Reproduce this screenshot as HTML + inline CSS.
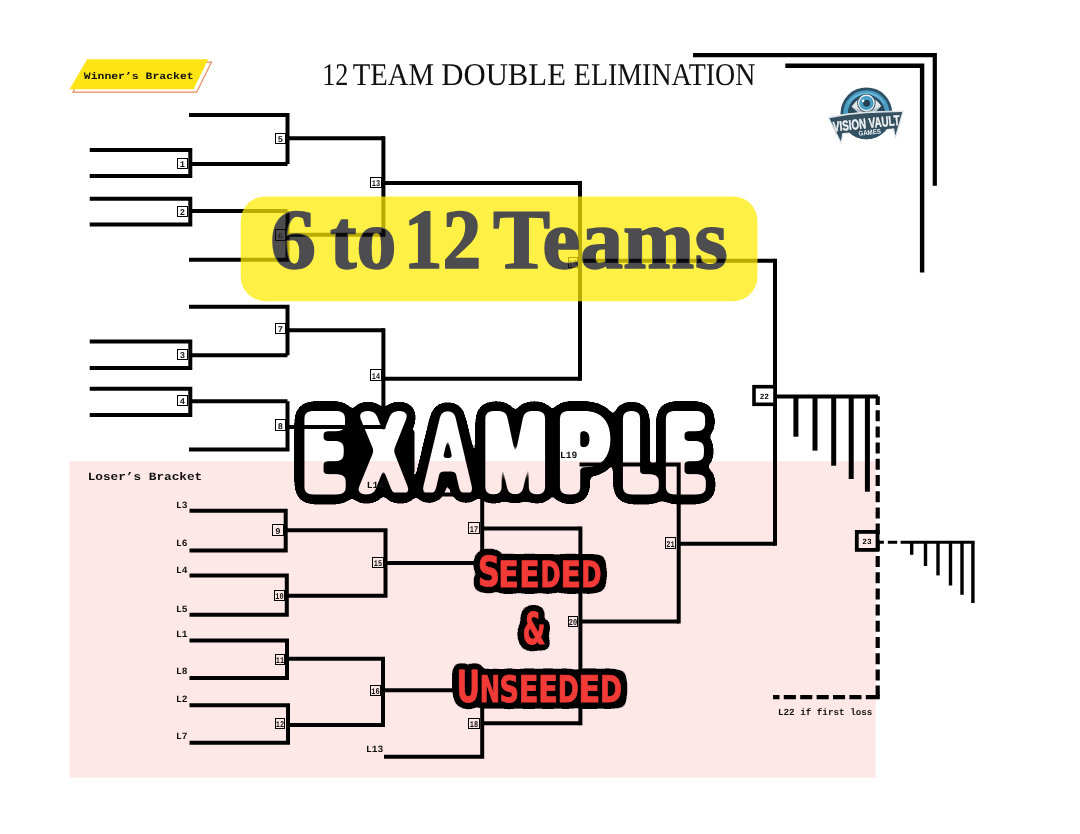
<!DOCTYPE html>
<html lang="en"><head><meta charset="utf-8"><title>12 Team Double Elimination</title>
<style>
html,body{margin:0;padding:0;background:#fff;}
body{width:1080px;height:834px;overflow:hidden;}
svg{display:block;opacity:0.999;}
text{white-space:pre;text-rendering:geometricPrecision;}
</style></head><body>
<svg width="1080" height="834" viewBox="0 0 1080 834">
<rect width="1080" height="834" fill="#fff"/>
<rect x="69.5" y="461.3" width="806.2" height="316.5" fill="#fee8e7"/>
<defs><filter id="ex" filterUnits="userSpaceOnUse" x="280" y="385" width="452" height="135" color-interpolation-filters="sRGB">
<feGaussianBlur in="SourceAlpha" stdDeviation="3.400 2.400" result="b1"/>
<feComponentTransfer in="b1" result="body"><feFuncA type="linear" slope="12.894" intercept="-1.5457"/></feComponentTransfer>
<feGaussianBlur in="body" stdDeviation="5.5" result="b2"/>
<feComponentTransfer in="b2" result="ol"><feFuncA type="linear" slope="127.722" intercept="-2.5334"/></feComponentTransfer>
<feFlood flood-color="#000" result="blk"/><feComposite operator="in" in="blk" in2="ol" result="bo"/>
<feFlood flood-color="#fff" x="280" y="385" width="452" height="76.3" result="fw"/>
<feFlood flood-color="#fee8e7" x="280" y="461.3" width="452" height="58.7" result="fp"/>
<feMerge result="fc"><feMergeNode in="fw"/><feMergeNode in="fp"/></feMerge>
<feComposite operator="in" in="fc" in2="body" result="bc"/>
<feMerge><feMergeNode in="bo"/><feMergeNode in="bc"/></feMerge>
</filter></defs>
<rect x="344" y="431" width="21" height="42" rx="4" fill="#000"/>
<rect x="399.5" y="429" width="15" height="46" rx="4" fill="#000"/>
<text y="491.50" font-weight="bold" fill="#000" filter="url(#ex)"><tspan x="301.43" font-family="'DejaVu Sans','Liberation Sans',sans-serif" font-size="107.68" textLength="45.88" lengthAdjust="spacingAndGlyphs">E</tspan><tspan x="359.78" font-family="'Liberation Sans','DejaVu Sans',sans-serif" font-size="114.10" textLength="47.25" lengthAdjust="spacingAndGlyphs">X</tspan><tspan x="425.37" font-family="'Liberation Sans','DejaVu Sans',sans-serif" font-weight="normal" font-size="114.10" textLength="44.66" lengthAdjust="spacingAndGlyphs">A</tspan><tspan x="483.61" font-family="'Liberation Sans','DejaVu Sans',sans-serif" font-size="114.10" textLength="63.38" lengthAdjust="spacingAndGlyphs">M</tspan><tspan x="556.57" font-family="'DejaVu Sans','Liberation Sans',sans-serif" font-size="107.68" textLength="53.74" lengthAdjust="spacingAndGlyphs">P</tspan><tspan x="621.11" font-family="'DejaVu Sans','Liberation Sans',sans-serif" font-size="107.68" textLength="36.04" lengthAdjust="spacingAndGlyphs">L</tspan><tspan x="663.28" font-family="'DejaVu Sans','Liberation Sans',sans-serif" font-size="107.68" textLength="44.04" lengthAdjust="spacingAndGlyphs">E</tspan></text>
<g id="ln" fill="none" stroke="#000" stroke-linejoin="miter" stroke-linecap="butt">
<path d="M89.7,150 H190.3 V176 H89.7" stroke-width="4" />
<path d="M190.3,164 H287.5" stroke-width="4" />
<path d="M89.7,198.7 H190.3 V224.6 H89.7" stroke-width="4" />
<path d="M190.3,211.0 H287.5" stroke-width="4" />
<path d="M89.7,341.6 H190.3 V368 H89.7" stroke-width="4" />
<path d="M190.3,355.2 H287.5" stroke-width="4" />
<path d="M89.7,388.7 H190.3 V415 H89.7" stroke-width="4" />
<path d="M190.3,401.3 H287.5" stroke-width="4" />
<path d="M189.0,115 H287.5 V164" stroke-width="4" />
<path d="M287.5,138.2 H383.4" stroke-width="4" />
<path d="M287.5,211 V259.7 H189.0" stroke-width="4" />
<path d="M287.5,234.8 H383.4" stroke-width="4" />
<path d="M189.0,306.8 H287.5 V355.2" stroke-width="4" />
<path d="M287.5,330.2 H383.4" stroke-width="4" />
<path d="M287.5,401.3 V449.6 H189.0" stroke-width="4" />
<path d="M287.5,427.0 H383.4" stroke-width="4" />
<path d="M383.4,136.2 V236.8" stroke-width="4" />
<path d="M383.4,183 H580.0" stroke-width="4" />
<path d="M383.4,328.2 V429.0" stroke-width="4" />
<path d="M383.4,378.8 H580.0" stroke-width="4" />
<path d="M580.0,181 V380.8" stroke-width="4" />
<path d="M580.0,260.7 H775.0" stroke-width="4" />
<path d="M775.0,258.7 V545.8" stroke-width="4" />
<path d="M775.0,396.5 H878" stroke-width="4" />
<path d="M189.5,510.8 H285.7 V550.4 H189.5" stroke-width="4" />
<path d="M189.5,575.6 H286.8 V614.7 H189.5" stroke-width="4" />
<path d="M189.5,640.5 H287.0 V678 H189.5" stroke-width="4" />
<path d="M189.5,705.3 H288.0 V742.7 H189.5" stroke-width="4" />
<path d="M285.7,530.2 H385.5 V595.7 H286.8" stroke-width="4" />
<path d="M385.5,562.9 H482.2" stroke-width="4" />
<path d="M286.8,658.7 H383 V724.9 H288.0" stroke-width="4" />
<path d="M383,690.2 H482.2" stroke-width="4" />
<path d="M385,494.5 H482.2 V564.9" stroke-width="4" />
<path d="M482.2,528.5 H580.4" stroke-width="4" />
<path d="M482.2,688.2 V756.8 H384" stroke-width="4" />
<path d="M482.2,723.2 H580.4" stroke-width="4" />
<path d="M580.4,526.5 V725.2" stroke-width="4" />
<path d="M580.4,621.4 H678.7" stroke-width="4" />
<path d="M579.5,464.5 H678.7 V623.4" stroke-width="4" />
<path d="M678.7,543.8 H775" stroke-width="4" />
<path d="M795.9,396.2 V436.7" stroke-width="5" />
<path d="M815.0,396.2 V450.6" stroke-width="5" />
<path d="M833.7,396.2 V465.7" stroke-width="5" />
<path d="M851.2,396.2 V479.0" stroke-width="5" />
<path d="M867.4,396.2 V491.7" stroke-width="5" />
<path d="M877.7,396.2 V699.3" stroke-width="4.2" stroke-dasharray="11 5.2" stroke-dashoffset="2.2"/>
<path d="M879.8,697.2 H772" stroke-width="4.2" stroke-dasharray="14 4.3 12.1 4.3 12.1 4.3 12.1 4.3 12.1 4.3 12.1 4.3 6.5 100"/>
<path d="M878,542.3 H912" stroke-width="3" stroke-dasharray="5.9 3.9 9.4 3.4 9.4 100"/>
<path d="M910,542.3 H974.6" stroke-width="3" />
<path d="M911.7,542.3 V554.8" stroke-width="3.4" />
<path d="M925.5,542.3 V566.0" stroke-width="3.4" />
<path d="M938.0,542.3 V575.4" stroke-width="3.4" />
<path d="M950.5,542.3 V585.5" stroke-width="3.4" />
<path d="M962.0,542.3 V594.8" stroke-width="3.4" />
<path d="M972.9,542.3 V603.0" stroke-width="3.4" />
<path d="M693,55.2 H934.8 V185.7" stroke-width="4.2" />
<path d="M785.3,65.7 H922.1 V272.5" stroke-width="4.4" />
</g>
<g font-family="'Liberation Mono','DejaVu Sans Mono',monospace" font-weight="bold" fill="#111">
<g id="bx">
<rect x="177.5" y="158.5" width="10.0" height="10.0" fill="none" stroke="#000" stroke-width="1"/>
<text x="182.5" y="166.5" font-size="8.8" text-anchor="middle">1</text>
<rect x="177.5" y="206.5" width="10.0" height="10.0" fill="none" stroke="#000" stroke-width="1"/>
<text x="182.5" y="214.5" font-size="8.8" text-anchor="middle">2</text>
<rect x="177.5" y="349.5" width="10.0" height="10.0" fill="none" stroke="#000" stroke-width="1"/>
<text x="182.5" y="357.5" font-size="8.8" text-anchor="middle">3</text>
<rect x="177.5" y="395.5" width="10.0" height="10.0" fill="none" stroke="#000" stroke-width="1"/>
<text x="182.5" y="403.5" font-size="8.8" text-anchor="middle">4</text>
<rect x="275.5" y="133.5" width="10.0" height="10.0" fill="none" stroke="#000" stroke-width="1"/>
<text x="280.5" y="141.5" font-size="8.8" text-anchor="middle">5</text>
<rect x="275.5" y="229.5" width="10.0" height="11.0" fill="none" stroke="#000" stroke-width="1"/>
<text x="280.5" y="238.5" font-size="8.8" text-anchor="middle">6</text>
<rect x="275.5" y="323.5" width="10.0" height="10.0" fill="none" stroke="#000" stroke-width="1"/>
<text x="280.5" y="331.5" font-size="8.8" text-anchor="middle">7</text>
<rect x="275.5" y="419.5" width="10.0" height="11.0" fill="none" stroke="#000" stroke-width="1"/>
<text x="280.5" y="428.5" font-size="8.8" text-anchor="middle">8</text>
<rect x="370.5" y="177.5" width="11.0" height="10.0" fill="none" stroke="#000" stroke-width="1"/>
<text x="371.8" y="185.5" font-size="8.8" textLength="8.3" lengthAdjust="spacingAndGlyphs">13</text>
<rect x="370.5" y="369.5" width="11.0" height="11.0" fill="none" stroke="#000" stroke-width="1"/>
<text x="371.8" y="378.5" font-size="8.8" textLength="8.3" lengthAdjust="spacingAndGlyphs">14</text>
<rect x="568.5" y="257.5" width="9.0" height="10.0" fill="none" stroke="#000" stroke-width="1"/>
<text x="568.8" y="265.5" font-size="8.8" textLength="8.3" lengthAdjust="spacingAndGlyphs">19</text>
<rect x="272.5" y="524.5" width="11.0" height="11.0" fill="none" stroke="#000" stroke-width="1"/>
<text x="278.0" y="533.5" font-size="8.8" text-anchor="middle">9</text>
<rect x="274.5" y="590.5" width="10.0" height="10.0" fill="none" stroke="#000" stroke-width="1"/>
<text x="275.3" y="598.5" font-size="8.8" textLength="8.3" lengthAdjust="spacingAndGlyphs">10</text>
<rect x="275.5" y="654.5" width="9.0" height="10.0" fill="none" stroke="#000" stroke-width="1"/>
<text x="275.8" y="662.5" font-size="8.8" textLength="8.3" lengthAdjust="spacingAndGlyphs">11</text>
<rect x="275.5" y="718.5" width="9.0" height="10.0" fill="none" stroke="#000" stroke-width="1"/>
<text x="275.8" y="726.5" font-size="8.8" textLength="8.3" lengthAdjust="spacingAndGlyphs">12</text>
<rect x="372.5" y="557.5" width="11.0" height="10.0" fill="none" stroke="#000" stroke-width="1"/>
<text x="373.8" y="565.5" font-size="8.8" textLength="8.3" lengthAdjust="spacingAndGlyphs">15</text>
<rect x="370.5" y="685.5" width="10.0" height="10.0" fill="none" stroke="#000" stroke-width="1"/>
<text x="371.3" y="693.5" font-size="8.8" textLength="8.3" lengthAdjust="spacingAndGlyphs">16</text>
<rect x="468.5" y="522.5" width="11.0" height="11.0" fill="none" stroke="#000" stroke-width="1"/>
<text x="469.8" y="531.5" font-size="8.8" textLength="8.3" lengthAdjust="spacingAndGlyphs">17</text>
<rect x="468.5" y="718.5" width="11.0" height="10.0" fill="none" stroke="#000" stroke-width="1"/>
<text x="469.8" y="726.5" font-size="8.8" textLength="8.3" lengthAdjust="spacingAndGlyphs">18</text>
<rect x="568.5" y="616.5" width="9.0" height="10.0" fill="none" stroke="#000" stroke-width="1"/>
<text x="568.8" y="624.5" font-size="8.8" textLength="8.3" lengthAdjust="spacingAndGlyphs">20</text>
<rect x="665.5" y="537.5" width="10.0" height="11.0" fill="none" stroke="#000" stroke-width="1"/>
<text x="666.3" y="546.5" font-size="8.8" textLength="8.3" lengthAdjust="spacingAndGlyphs">21</text>
</g>
<text x="176.1" y="507.5" font-size="9.6">L3</text>
<text x="176.1" y="545.6" font-size="9.6">L6</text>
<text x="176.1" y="572.5" font-size="9.6">L4</text>
<text x="176.1" y="612" font-size="9.6">L5</text>
<text x="176.1" y="637" font-size="9.6">L1</text>
<text x="176.1" y="674.4" font-size="9.6">L8</text>
<text x="176.1" y="702" font-size="9.6">L2</text>
<text x="176.1" y="738.6" font-size="9.6">L7</text>
<text x="365.9" y="752.3" font-size="9.6">L13</text>
<text x="366.8" y="488" font-size="9.6">L14</text>
<text x="560" y="458" font-size="9.6">L19</text>
<text x="777.9" y="715.2" font-size="9.28">L22 if first loss</text>
<text transform="translate(87.7,480) scale(1,0.88)" font-size="12.73">Loser’s Bracket</text>
</g>
<rect x="754.0" y="386.7" width="21.0" height="17.6" fill="#fff" stroke="#000" stroke-width="3.6"/>
<text x="764.6" y="399.2" font-family="'Liberation Sans','DejaVu Sans',sans-serif" font-weight="bold" font-size="7.6" text-anchor="middle" letter-spacing="0.3">22</text>
<rect x="856.8" y="531.9" width="20.7" height="18.0" fill="#ffeceb" stroke="#000" stroke-width="3.8"/>
<text x="867.3" y="544.3" font-family="'Liberation Sans','DejaVu Sans',sans-serif" font-weight="bold" font-size="7.6" text-anchor="middle" letter-spacing="0.5">23</text>
<polygon points="90.4,62.1 211.5,62.1 196.7,92.1 72.8,92.1" fill="none" stroke="#e98a5c" stroke-width="1.1"/>
<polygon points="87.2,59.3 208.3,59.3 193.5,89.3 69.6,89.3" fill="#ffe414"/>
<text transform="translate(83.8,78.8) scale(1,0.85)" font-size="11.45" font-family="'Liberation Mono','DejaVu Sans Mono',monospace" font-weight="bold" fill="#111">Winner’s Bracket</text>
<text y="84.6" font-family="'Liberation Serif','DejaVu Serif',serif" font-size="31.6" fill="#111"><tspan x="322.24" textLength="26.20" lengthAdjust="spacingAndGlyphs">12</tspan> <tspan x="352.73" textLength="81.28" lengthAdjust="spacingAndGlyphs">TEAM</tspan> <tspan x="441.28" textLength="124.66" lengthAdjust="spacingAndGlyphs">DOUBLE</tspan> <tspan x="573.86" textLength="181.50" lengthAdjust="spacingAndGlyphs">ELIMINATION</tspan></text>
<rect x="240.7" y="196.4" width="516.8" height="104.8" rx="24.5" ry="24.5" fill="#ffea00" fill-opacity="0.73"/>
<defs><text id="bt" y="267.6" font-family="'Liberation Serif','DejaVu Serif',serif" font-weight="bold" font-size="85.0"><tspan x="269.97" textLength="46.09" lengthAdjust="spacingAndGlyphs">6</tspan> <tspan x="329.90" textLength="66.43" lengthAdjust="spacingAndGlyphs">to</tspan> <tspan x="403.80" textLength="77.49" lengthAdjust="spacingAndGlyphs">12</tspan> <tspan x="493.12" textLength="234.63" lengthAdjust="spacingAndGlyphs">Teams</tspan></text><clipPath id="btc"><use href="#bt"/></clipPath></defs>
<use href="#bt" fill="#4d4d4f" stroke="#4d4d4f" stroke-width="1.7" stroke-linejoin="round"/>
<g clip-path="url(#btc)" opacity="0.88"><use href="#ln"/><use href="#bx"/></g>
<defs><filter id="rd" filterUnits="userSpaceOnUse" x="440" y="535" width="200" height="185" color-interpolation-filters="sRGB">
<feGaussianBlur in="SourceAlpha" stdDeviation="3.0" result="b"/>
<feComponentTransfer in="b" result="ol"><feFuncA type="linear" slope="95.315" intercept="-0.5222"/></feComponentTransfer>
<feFlood flood-color="#000" result="blk"/><feComposite operator="in" in="blk" in2="ol"/>
</filter></defs>
<defs><g id="rt" font-family="'DejaVu Sans','Liberation Sans',sans-serif" font-weight="bold"><text><tspan x="477.68" y="586.01" font-size="41.38" textLength="22.29" lengthAdjust="spacingAndGlyphs">S</tspan><tspan x="498.34" y="586.50" font-size="35.94" textLength="20.57" lengthAdjust="spacingAndGlyphs">E</tspan><tspan x="519.15" y="586.50" font-size="35.94" textLength="20.44" lengthAdjust="spacingAndGlyphs">E</tspan><tspan x="540.38" y="586.50" font-size="35.94" textLength="20.09" lengthAdjust="spacingAndGlyphs">D</tspan><tspan x="560.54" y="586.50" font-size="35.94" textLength="20.57" lengthAdjust="spacingAndGlyphs">E</tspan><tspan x="581.17" y="586.50" font-size="35.94" textLength="20.21" lengthAdjust="spacingAndGlyphs">D</tspan></text>
<text><tspan x="522.61" y="644.18" font-size="43.89" textLength="23.10" lengthAdjust="spacingAndGlyphs">&amp;</tspan></text>
<text><tspan x="456.54" y="702.17" font-size="44.13" textLength="23.52" lengthAdjust="spacingAndGlyphs">U</tspan><tspan x="479.67" y="702.40" font-size="36.76" textLength="20.37" lengthAdjust="spacingAndGlyphs">N</tspan><tspan x="499.55" y="702.28" font-size="36.49" textLength="19.53" lengthAdjust="spacingAndGlyphs">S</tspan><tspan x="518.84" y="702.40" font-size="36.76" textLength="19.78" lengthAdjust="spacingAndGlyphs">E</tspan><tspan x="538.26" y="702.40" font-size="36.76" textLength="19.65" lengthAdjust="spacingAndGlyphs">E</tspan><tspan x="557.87" y="702.40" font-size="36.76" textLength="21.06" lengthAdjust="spacingAndGlyphs">D</tspan><tspan x="578.32" y="702.40" font-size="36.76" textLength="22.15" lengthAdjust="spacingAndGlyphs">E</tspan><tspan x="600.06" y="702.40" font-size="36.76" textLength="22.02" lengthAdjust="spacingAndGlyphs">D</tspan></text></g></defs>
<g filter="url(#rd)" fill="#000"><rect x="499.1" y="561.3" width="100.0" height="24.2"/><rect x="479.9" y="676.6" width="139.8" height="24.8"/><use href="#rt"/></g>
<use href="#rt" fill="#f23a37" stroke="#f23a37" stroke-width="0.9" stroke-linejoin="round"/>
<g>
<circle cx="866.4" cy="113.3" r="25.9" fill="#2f5165"/>
<circle cx="866.4" cy="113.3" r="20.7" fill="none" stroke="#4b9cc3" stroke-width="4.6"/>
<path d="M848.6,103.5 A20.6,20.6 0 0 1 884.2,103.5" fill="none" stroke="#7cc3e0" stroke-width="1.3" opacity="0.8"/>
<circle cx="866.4" cy="113.3" r="18.4" fill="#2a495c"/>
<path d="M851.6,106.6 Q858.5,96.6 866.4,96.2 Q874.5,96.6 881.2,105.8 Q874.5,114.6 866.4,114.8 Q858.5,114.6 851.6,106.6 Z" fill="#e3e8eb"/>
<path d="M853.6,108.6 Q866,118.6 879.4,107.8 L881.2,105.8 Q866.4,115.6 851.6,106.6 Z" fill="#a5b4bd"/>
<circle cx="866.4" cy="103" r="9.3" fill="#2a495c"/>
<circle cx="866.4" cy="103" r="8.4" fill="#eef2f4"/>
<circle cx="866.4" cy="103" r="7.1" fill="#3f96bd"/>
<circle cx="866.4" cy="103" r="5.6" fill="#4aa3c9"/>
<circle cx="866.6" cy="103.3" r="3.5" fill="#25414f"/>
<circle cx="863.1" cy="100.8" r="1.35" fill="#f6fafb"/>
<path d="M828.2,117.3 Q848,113.2 866,112.1 Q885,111.3 903.3,110.9 L895.5,138.4 L893.2,128.9 Q868,131.6 843.1,133.6 L841,143.8 Z" fill="#dfe6ea" stroke="#dfe6ea" stroke-width="1" stroke-linejoin="round"/>
<path d="M829.4,118.2 Q848,114.3 866,113.2 Q885,112.4 902.2,111.9 L895.4,135.4 L894,127.6 Q868,130.4 842.4,132.5 L840.9,141.2 Z" fill="#35505f"/>
<defs><clipPath id="lgc"><polygon points="842.6,126 893.8,121.5 893.8,145 842.6,145"/></clipPath></defs>
<circle cx="866.4" cy="113.3" r="25.9" fill="#2f5165" clip-path="url(#lgc)"/>
<path d="M833,120.2 Q848,117.4 866,116.2 Q885,115.3 899,114.8 L894.6,128.2 Q868,131 842.6,133 Z" fill="#35505f"/>
<g transform="rotate(-6.0 866.4 125)" font-family="'Liberation Sans','DejaVu Sans',sans-serif" font-weight="bold" fill="#f1f4f6" text-anchor="middle">
<text x="866.5" y="128.3" font-size="14.2" stroke="#f1f4f6" stroke-width="0.35" textLength="67" lengthAdjust="spacingAndGlyphs">VISION VAULT</text>
<text x="868.8" y="135.0" font-size="7.0" textLength="22.5" lengthAdjust="spacingAndGlyphs">GAMES</text></g>
</g>
</svg>
</body></html>
